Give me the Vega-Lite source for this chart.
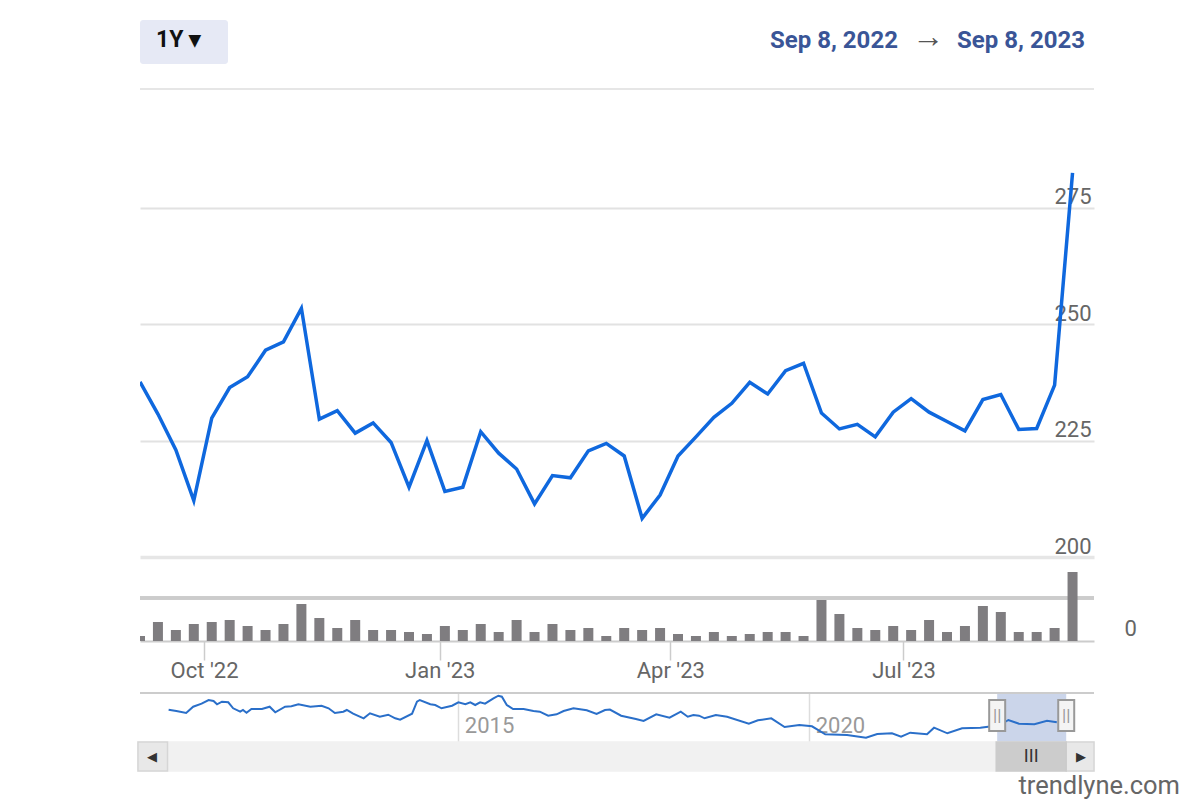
{
  "$schema": "https://vega.github.io/schema/vega-lite/v6.json",
  "background": "white",
  "padding": {"left": 137, "top": 20, "right": 0, "bottom": 0},
  "bounds": "flush",
  "spacing": 0,
  "config": {
    "view": {"stroke": null},
    "text": {"font": "Roboto"},
    "axis": {"labelFont": "Roboto", "labelFontSize": 22, "labelColor": "#666666", "title": null}
  },
  "datasets": {
    "weekly": [
      {"date": "2022-09-06T00:00:00", "close": 237.6, "volume": 5},
      {"date": "2022-09-13T00:00:00", "close": 230.7, "volume": 19},
      {"date": "2022-09-20T00:00:00", "close": 223.0, "volume": 11},
      {"date": "2022-09-27T00:00:00", "close": 212.1, "volume": 17},
      {"date": "2022-10-04T00:00:00", "close": 229.8, "volume": 19},
      {"date": "2022-10-11T00:00:00", "close": 236.4, "volume": 21},
      {"date": "2022-10-18T00:00:00", "close": 238.7, "volume": 15},
      {"date": "2022-10-25T00:00:00", "close": 244.4, "volume": 11},
      {"date": "2022-11-01T00:00:00", "close": 246.2, "volume": 17},
      {"date": "2022-11-08T00:00:00", "close": 253.4, "volume": 37},
      {"date": "2022-11-15T00:00:00", "close": 229.6, "volume": 23},
      {"date": "2022-11-22T00:00:00", "close": 231.4, "volume": 13},
      {"date": "2022-11-29T00:00:00", "close": 226.6, "volume": 21},
      {"date": "2022-12-06T00:00:00", "close": 228.8, "volume": 11},
      {"date": "2022-12-13T00:00:00", "close": 224.6, "volume": 11},
      {"date": "2022-12-20T00:00:00", "close": 215.0, "volume": 9},
      {"date": "2022-12-27T00:00:00", "close": 225.0, "volume": 7},
      {"date": "2023-01-03T00:00:00", "close": 214.1, "volume": 15},
      {"date": "2023-01-10T00:00:00", "close": 215.0, "volume": 11},
      {"date": "2023-01-17T00:00:00", "close": 226.9, "volume": 17},
      {"date": "2023-01-24T00:00:00", "close": 222.3, "volume": 9},
      {"date": "2023-01-31T00:00:00", "close": 218.9, "volume": 21},
      {"date": "2023-02-07T00:00:00", "close": 211.4, "volume": 9},
      {"date": "2023-02-14T00:00:00", "close": 217.5, "volume": 17},
      {"date": "2023-02-21T00:00:00", "close": 217.0, "volume": 11},
      {"date": "2023-02-28T00:00:00", "close": 222.8, "volume": 13},
      {"date": "2023-03-07T00:00:00", "close": 224.4, "volume": 5},
      {"date": "2023-03-14T00:00:00", "close": 221.7, "volume": 13},
      {"date": "2023-03-21T00:00:00", "close": 208.3, "volume": 11},
      {"date": "2023-03-28T00:00:00", "close": 213.3, "volume": 13},
      {"date": "2023-04-04T00:00:00", "close": 221.7, "volume": 7},
      {"date": "2023-04-11T00:00:00", "close": 225.8, "volume": 5},
      {"date": "2023-04-18T00:00:00", "close": 230.0, "volume": 9},
      {"date": "2023-04-25T00:00:00", "close": 233.0, "volume": 5},
      {"date": "2023-05-02T00:00:00", "close": 237.5, "volume": 7},
      {"date": "2023-05-09T00:00:00", "close": 235.0, "volume": 9},
      {"date": "2023-05-16T00:00:00", "close": 240.0, "volume": 9},
      {"date": "2023-05-23T00:00:00", "close": 241.6, "volume": 5},
      {"date": "2023-05-30T00:00:00", "close": 230.9, "volume": 41},
      {"date": "2023-06-06T00:00:00", "close": 227.5, "volume": 27},
      {"date": "2023-06-13T00:00:00", "close": 228.5, "volume": 13},
      {"date": "2023-06-20T00:00:00", "close": 225.8, "volume": 11},
      {"date": "2023-06-27T00:00:00", "close": 231.1, "volume": 15},
      {"date": "2023-07-04T00:00:00", "close": 234.0, "volume": 11},
      {"date": "2023-07-11T00:00:00", "close": 231.1, "volume": 21},
      {"date": "2023-07-18T00:00:00", "close": 229.1, "volume": 9},
      {"date": "2023-07-25T00:00:00", "close": 227.1, "volume": 15},
      {"date": "2023-08-01T00:00:00", "close": 233.8, "volume": 35},
      {"date": "2023-08-08T00:00:00", "close": 234.9, "volume": 29},
      {"date": "2023-08-15T00:00:00", "close": 227.4, "volume": 9},
      {"date": "2023-08-22T00:00:00", "close": 227.6, "volume": 9},
      {"date": "2023-08-29T00:00:00", "close": 236.9, "volume": 13},
      {"date": "2023-09-05T00:00:00", "close": 282.5, "volume": 69}
    ],
    "history": [
      {"year": 2010.87, "level": 32.3}, {"year": 2010.98, "level": 31}, {"year": 2011.12, "level": 29}, {"year": 2011.22, "level": 35.3},
      {"year": 2011.34, "level": 38.3}, {"year": 2011.44, "level": 42}, {"year": 2011.51, "level": 41}, {"year": 2011.56, "level": 37.7},
      {"year": 2011.63, "level": 40.3}, {"year": 2011.72, "level": 39.7}, {"year": 2011.79, "level": 33.7}, {"year": 2011.89, "level": 30.3},
      {"year": 2011.93, "level": 32}, {"year": 2011.98, "level": 29.3}, {"year": 2012.05, "level": 33}, {"year": 2012.2, "level": 33},
      {"year": 2012.31, "level": 35.3}, {"year": 2012.39, "level": 29.7}, {"year": 2012.53, "level": 35.3}, {"year": 2012.62, "level": 35.7},
      {"year": 2012.72, "level": 37.7}, {"year": 2012.89, "level": 35.3}, {"year": 2013.05, "level": 36.3}, {"year": 2013.15, "level": 33.7},
      {"year": 2013.24, "level": 29}, {"year": 2013.36, "level": 30.3}, {"year": 2013.41, "level": 32}, {"year": 2013.5, "level": 28.3},
      {"year": 2013.65, "level": 23.7}, {"year": 2013.74, "level": 28.7}, {"year": 2013.88, "level": 25.3}, {"year": 2014.0, "level": 27.3},
      {"year": 2014.1, "level": 23.7}, {"year": 2014.17, "level": 22.3}, {"year": 2014.34, "level": 28.3}, {"year": 2014.41, "level": 40.3},
      {"year": 2014.45, "level": 42}, {"year": 2014.6, "level": 37.7}, {"year": 2014.67, "level": 37}, {"year": 2014.76, "level": 33.7},
      {"year": 2014.91, "level": 36.3}, {"year": 2015.0, "level": 39.7}, {"year": 2015.1, "level": 37.7}, {"year": 2015.17, "level": 39.7},
      {"year": 2015.24, "level": 37}, {"year": 2015.31, "level": 39.7}, {"year": 2015.38, "level": 38.3}, {"year": 2015.5, "level": 43.7},
      {"year": 2015.57, "level": 46.3}, {"year": 2015.62, "level": 45.3}, {"year": 2015.69, "level": 37}, {"year": 2015.78, "level": 33},
      {"year": 2015.93, "level": 33}, {"year": 2016.07, "level": 31}, {"year": 2016.16, "level": 30.3}, {"year": 2016.28, "level": 26.3},
      {"year": 2016.4, "level": 27.7}, {"year": 2016.5, "level": 31}, {"year": 2016.64, "level": 33.7}, {"year": 2016.83, "level": 31.7},
      {"year": 2016.97, "level": 28}, {"year": 2017.09, "level": 32}, {"year": 2017.16, "level": 32.5}, {"year": 2017.32, "level": 26.3},
      {"year": 2017.53, "level": 23}, {"year": 2017.64, "level": 21}, {"year": 2017.82, "level": 27.7}, {"year": 2018.01, "level": 24.3},
      {"year": 2018.17, "level": 30.3}, {"year": 2018.27, "level": 25.3}, {"year": 2018.35, "level": 27}, {"year": 2018.43, "level": 26.3},
      {"year": 2018.51, "level": 23.7}, {"year": 2018.67, "level": 27}, {"year": 2018.83, "level": 25.3}, {"year": 2019.14, "level": 18.3},
      {"year": 2019.27, "level": 21.7}, {"year": 2019.46, "level": 23.7}, {"year": 2019.65, "level": 15}, {"year": 2019.86, "level": 17},
      {"year": 2020.04, "level": 15.7}, {"year": 2020.23, "level": 7.7}, {"year": 2020.54, "level": 7}, {"year": 2020.81, "level": 4.3},
      {"year": 2020.97, "level": 8}, {"year": 2021.18, "level": 8.7}, {"year": 2021.31, "level": 5.3}, {"year": 2021.44, "level": 9.3},
      {"year": 2021.68, "level": 7.7}, {"year": 2021.78, "level": 14.3}, {"year": 2021.97, "level": 8.7}, {"year": 2022.18, "level": 13.7},
      {"year": 2022.44, "level": 14.3}, {"year": 2022.55, "level": 15.3}, {"year": 2022.69, "level": 16}, {"year": 2022.84, "level": 22},
      {"year": 2022.99, "level": 18.3}, {"year": 2023.21, "level": 17.7}, {"year": 2023.39, "level": 21.3}, {"year": 2023.53, "level": 19.7}
    ]
  },
  "vconcat": [
    {
      "width": 954,
      "height": 69,
      "layer": [
        {
          "data": {"values": [{"control": "range"}]},
          "mark": {"type": "rect", "color": "#e6e9f5", "cornerRadius": 3},
          "encoding": {"x": {"value": 0}, "x2": {"value": 88}, "y": {"value": 0}, "y2": {"value": 44}}
        },
        {
          "data": {"values": [{"label": "1Y ▾"}]},
          "mark": {"type": "text", "align": "left", "fontSize": 23, "fontWeight": "bold", "color": "#111111"},
          "encoding": {"text": {"field": "label"}, "x": {"value": 16}, "y": {"value": 20}}
        },
        {
          "data": {"values": [{"label": "Sep 8, 2022"}]},
          "mark": {"type": "text", "align": "left", "fontSize": 24, "fontWeight": "bold", "color": "#3a5597"},
          "encoding": {"text": {"field": "label"}, "x": {"value": 630}, "y": {"value": 21}}
        },
        {
          "data": {"values": [{"label": "→"}]},
          "mark": {"type": "text", "align": "center", "fontSize": 32, "color": "#555555"},
          "encoding": {"text": {"field": "label"}, "x": {"value": 788}, "y": {"value": 17}}
        },
        {
          "data": {"values": [{"label": "Sep 8, 2023"}]},
          "mark": {"type": "text", "align": "right", "fontSize": 24, "fontWeight": "bold", "color": "#3a5597"},
          "encoding": {"text": {"field": "label"}, "x": {"value": 945}, "y": {"value": 21}}
        }
      ]
    },
    {
      "width": 954,
      "height": 468,
      "data": {"name": "weekly"},
      "layer": [
        {
          "mark": {"type": "rule", "color": "#e6e6e6", "strokeWidth": 2},
          "encoding": {"y": {"datum": 300.5, "type": "quantitative"}}
        },
        {
          "mark": {"type": "line", "color": "#0f68de", "strokeWidth": 3.5, "strokeJoin": "miter", "clip": true},
          "encoding": {
            "x": {
              "field": "date",
              "type": "temporal",
              "axis": null,
              "scale": {"domain": [{"year": 2022, "month": 9, "date": 6}, {"year": 2023, "month": 9, "date": 13, "hours": 9}], "nice": false}
            },
            "y": {
              "field": "close",
              "type": "quantitative",
              "scale": {"domain": [200, 300.5], "nice": false, "zero": false},
              "axis": {
                "orient": "right",
                "values": [200, 225, 250, 275],
                "grid": true,
                "gridColor": {"condition": {"test": "datum.value === 200", "value": "#e6e6e6"}, "value": "#e2e2e2"},
                "gridWidth": {"condition": {"test": "datum.value === 200", "value": 3.5}, "value": 2},
                "ticks": false,
                "domain": false,
                "labelAlign": "right",
                "labelPadding": -3,
                "labelOffset": -11
              }
            }
          }
        }
      ]
    },
    {
      "width": 954,
      "height": 84,
      "data": {"name": "weekly"},
      "layer": [
        {
          "mark": {"type": "rule", "color": "#cccccc", "strokeWidth": 3.5},
          "encoding": {"y": {"datum": 43, "type": "quantitative"}}
        },
        {
          "mark": {"type": "bar", "color": "#7f7d80", "size": 10, "clip": true},
          "encoding": {
            "x": {
              "field": "date",
              "type": "temporal",
              "scale": {"domain": [{"year": 2022, "month": 9, "date": 6}, {"year": 2023, "month": 9, "date": 13, "hours": 9}], "nice": false, "padding": 0},
              "axis": {
                "values": [{"year": 2022, "month": 10, "date": 1}, {"year": 2023, "month": 1, "date": 1}, {"year": 2023, "month": 4, "date": 1}, {"year": 2023, "month": 7, "date": 1}],
                "format": "%b '%y",
                "grid": false,
                "domain": false,
                "tickColor": "#cccccc",
                "tickSize": 19,
                "tickWidth": 1.5,
                "labelPadding": 0,
                "labelFlush": false
              }
            },
            "y": {
              "field": "volume",
              "type": "quantitative",
              "scale": {"domain": [0, 84], "nice": false},
              "axis": {
                "orient": "right",
                "values": [0],
                "grid": true,
                "gridColor": "#cccccc",
                "gridWidth": 2,
                "ticks": false,
                "domain": false,
                "labelPadding": 30,
                "labelOffset": -13
              }
            }
          }
        }
      ]
    },
    {
      "width": 954,
      "height": 52,
      "data": {"values": []},
      "mark": "rect"
    },
    {
      "width": 954,
      "height": 49,
      "layer": [
        {
          "data": {"values": [{"from": 2022.68, "to": 2023.664}]},
          "mark": {"type": "rect", "color": "#cbd5ea"},
          "encoding": {
            "x": {"field": "from", "type": "quantitative", "scale": {"domain": [2010.462, 2024.06], "nice": false, "zero": false}, "axis": {"values": [2015, 2020], "format": "d", "grid": true, "gridColor": "#dddddd", "gridWidth": 1.5, "ticks": false, "domain": false, "labelColor": "#999999", "labelAlign": "left", "labelBaseline": "top", "labelPadding": -27, "labelOffset": 6, "labelFontSize": 22}},
            "x2": {"field": "to"}
          }
        },
        {
          "data": {"name": "history"},
          "mark": {"type": "line", "color": "#2a6fc9", "strokeWidth": 2},
          "encoding": {
            "x": {"field": "year", "type": "quantitative"},
            "y": {"field": "level", "type": "quantitative", "scale": {"domain": [0, 49], "nice": false}, "axis": null}
          }
        },
        {
          "data": {"values": [{"line": "top"}]},
          "mark": {"type": "rule", "color": "#cccccc", "strokeWidth": 2},
          "encoding": {"y": {"datum": 49, "type": "quantitative"}}
        },
        {
          "data": {"values": [{"from": 2022.566, "to": 2022.794}, {"from": 2023.55, "to": 2023.778}]},
          "mark": {"type": "rect", "fill": "#f4f4f4", "stroke": "#999999", "strokeWidth": 2},
          "encoding": {
            "x": {"field": "from", "type": "quantitative"},
            "x2": {"field": "to"},
            "y": {"datum": 11, "type": "quantitative"},
            "y2": {"datum": 42}
          }
        },
        {
          "data": {"values": [{"year": 2022.68, "grip": "||"}, {"year": 2023.664, "grip": "||"}]},
          "mark": {"type": "text", "fontSize": 17, "color": "#999999"},
          "encoding": {
            "x": {"field": "year", "type": "quantitative"},
            "y": {"datum": 26.5, "type": "quantitative"},
            "text": {"field": "grip"}
          }
        }
      ]
    },
    {
      "width": 954,
      "height": 29,
      "layer": [
        {
          "data": {"values": [
            {"part": "track", "from": 2010.433, "to": 2024.06},
            {"part": "button", "from": 2010.433, "to": 2010.854},
            {"part": "button", "from": 2023.664, "to": 2024.06},
            {"part": "thumb", "from": 2022.666, "to": 2023.664}
          ]},
          "mark": {"type": "rect", "strokeWidth": 1.5},
          "encoding": {
            "x": {"field": "from", "type": "quantitative", "scale": {"domain": [2010.462, 2024.06], "nice": false, "zero": false}, "axis": null},
            "x2": {"field": "to"},
            "color": {"field": "part", "type": "nominal", "legend": null, "scale": {"domain": ["track", "button", "thumb"], "range": ["#f1f1f1", "#e8e8e8", "#cccccc"]}},
            "stroke": {"field": "part", "type": "nominal", "legend": null, "scale": {"domain": ["track", "button", "thumb"], "range": ["#f1f1f1", "#d6d6d6", "#cccccc"]}}
          }
        },
        {
          "data": {"values": [
            {"at": 2010.64, "glyph": "◀"},
            {"at": 2023.88, "glyph": "▶"}
          ]},
          "mark": {"type": "text", "fontSize": 13, "color": "#333333"},
          "encoding": {
            "x": {"field": "at", "type": "quantitative"},
            "text": {"field": "glyph"}
          }
        },
        {
          "data": {"values": [{"at": 2023.165, "glyph": "III"}]},
          "mark": {"type": "text", "fontSize": 18, "color": "#333333"},
          "encoding": {
            "x": {"field": "at", "type": "quantitative"},
            "text": {"field": "glyph"}
          }
        },
        {
          "data": {"values": [{"label": "trendlyne.com"}]},
          "mark": {"type": "text", "align": "right", "fontSize": 25.5, "color": "#666666"},
          "encoding": {"text": {"field": "label"}, "x": {"value": 1040}, "y": {"value": 44}}
        }
      ]
    }
  ]
}
